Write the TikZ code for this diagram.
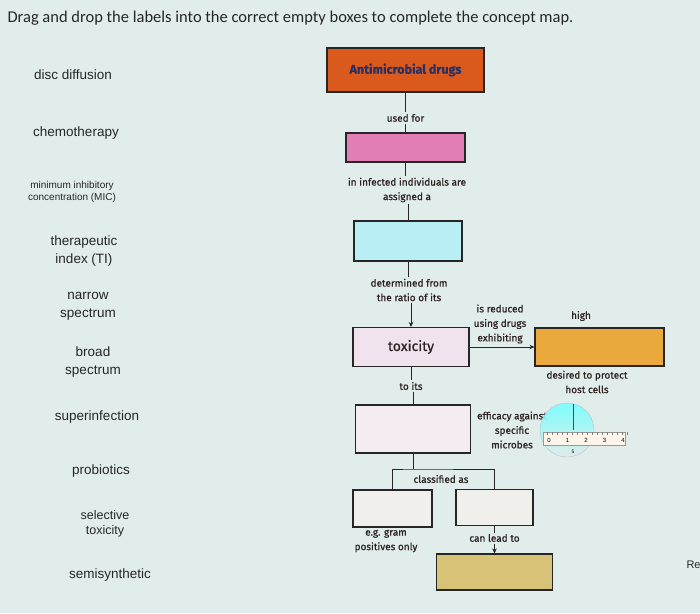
\documentclass[tikz,border=0pt]{standalone}
\usepackage{fontspec}
\setmainfont{Liberation Sans}
\newfontfamily\mapfont[FakeBold=0.8]{Fira Sans}
\newfontfamily\titlefont{Carlito}
\usetikzlibrary{arrows.meta}
\definecolor{paper}{HTML}{E1EDEB}
\definecolor{drugred}{HTML}{DA5A1E}
\definecolor{drugink}{HTML}{2B3060}
\definecolor{usepink}{HTML}{E27EB5}
\definecolor{indexcyan}{HTML}{B9EEF5}
\definecolor{toxlav}{HTML}{F1E3EE}
\definecolor{highorange}{HTML}{E9A93D}
\definecolor{targetlav}{HTML}{F4ECF0}
\definecolor{classgray}{HTML}{F1EFEB}
\definecolor{leadtan}{HTML}{D8C277}
\definecolor{mapink}{HTML}{2E2222}

\begin{document}
\begin{tikzpicture}[x=1pt,y=-1pt,
  mapbox/.style={draw=black!85,line width=1.1pt,inner sep=0pt},
  link/.style={mapink,font=\mapfont\fontsize{10}{14.5}\selectfont,align=center,inner sep=1.5pt},
  choice/.style={black!85,font=\fontsize{13.5}{18}\selectfont,align=center,inner sep=0pt},
  conn/.style={black!85,line width=1pt},
  pointer/.style={conn,-{Stealth[length=5pt,width=4.5pt]}},
]
\fill[paper] (0,0) rectangle (700,613);
\useasboundingbox (0,0) rectangle (700,613);

\node[anchor=west,font=\titlefont\fontsize{16.5}{18}\selectfont,black!85] (title) at (4,18)
  {Drag and drop the labels into the correct empty boxes to complete the concept map.};

\node[choice] (disc) at (73,75) {disc diffusion};
\node[choice] (chemo) at (76,133) {chemotherapy};
\node[choice,font=\fontsize{10}{12}\selectfont] (mic) at (72,192) {minimum inhibitory\\concentration (MIC)};
\node[choice] (ti) at (84,251) {therapeutic\\index (TI)};
\node[choice] (narrow) at (88,306) {narrow\\spectrum};
\node[choice] (broad) at (93,362) {broad\\spectrum};
\node[choice] (super) at (97,417) {superinfection};
\node[choice] (probio) at (101,471) {probiotics};
\node[choice,font=\fontsize{12.5}{15}\selectfont] (selective) at (105,524) {selective\\toxicity};
\node[choice] (semi) at (110,575) {semisynthetic};

\node[mapbox,fill=drugred,minimum width=157pt,minimum height=44pt,
  font=\mapfont\bfseries\fontsize{12.5}{14}\selectfont,text=drugink] (drugs) at (405.5,70) {Antimicrobial drugs};
\node[link] (usedfor) at (405.5,118) {used for};
\node[mapbox,fill=usepink,minimum width=119pt,minimum height=29pt] (chemobox) at (405.5,147.5) {};
\node[link] (assigned) at (407,190) {in infected individuals are\\assigned a};
\node[mapbox,fill=indexcyan,minimum width=108pt,minimum height=40pt] (tibox) at (408,241) {};
\node[link] (ratio) at (409,290) {determined from\\the ratio of its};
\node[mapbox,fill=toxlav,minimum width=116pt,minimum height=39pt,
  font=\mapfont\fontsize{14}{16}\selectfont,text=mapink] (toxicity) at (411,347) {toxicity};
\node[mapbox,fill=highorange,minimum width=129pt,minimum height=38pt] (highbox) at (599.5,347) {};
\node[link] (reduced) at (500,324) {is reduced\\using drugs\\exhibiting};
\node[link] (high) at (581,316) {high};
\node[link] (protect) at (587,382) {desired to protect\\host cells};
\node[link] (toits) at (411,386) {to its};
\node[mapbox,fill=targetlav,minimum width=115pt,minimum height=48pt] (target) at (413,429) {};
\node[link] (efficacy) at (512,430) {efficacy against\\specific\\microbes};
\coordinate (split) at (413,469);
\node[link] (classified) at (441,479) {classified as};
\node[mapbox,fill=classgray,minimum width=79pt,minimum height=37pt] (narrowbox) at (392.5,508.5) {};
\node[mapbox,fill=classgray,minimum width=77pt,minimum height=36pt] (broadbox) at (494.5,507.5) {};
\node[link] (gram) at (386,541) {e.g. gram\\positives only};
\node[link] (leadto) at (494.5,538) {can lead to};
\node[mapbox,fill=leadtan,minimum width=116pt,minimum height=36pt] (superbox) at (494.5,572) {};

\draw[conn] (drugs) -- (usedfor);
\draw[conn] (usedfor) -- (chemobox);
\draw[conn] (chemobox.south) -- (chemobox.south |- assigned.north);
\draw[conn] (assigned.south -| tibox.north) -- (tibox.north);
\draw[conn] (tibox.south) -- (tibox.south |- ratio.north);
\draw[pointer] (ratio.south -| toxicity.north) -- (toxicity.north);
\draw[pointer] (toxicity) -- (highbox);
\draw[conn] (toxicity) -- (toits);
\draw[conn] (toits.south -| target.north) -- (target.north);
\draw[conn] (target) -- (split);
\draw[conn] (narrowbox.north) |- (split) -| (broadbox.north);
\draw[conn] (broadbox) -- (leadto);
\draw[pointer,line width=0.6pt] (leadto) -- (superbox);

\begin{scope}[shift={(567,430)}]
  \shade[top color=cyan!55!white,bottom color=paper,opacity=0.9] (0,0) circle (27);
  \draw[black!25] (0,0) circle (27);
  \draw[black!70,line width=0.6pt] (6,-26) -- (6,0);
  \draw[black!40,fill=orange!8] (-24,2) rectangle (58,15);
  \foreach \k in {0,...,16} {\draw[black!50] (-20+\k*5,2) -- (-20+\k*5,5);}
  \foreach \k/\v in {0/0,1/1,2/2,3/3,4/4} {\node[font=\fontsize{6}{6}\selectfont,inner sep=0pt] (tick\v) at (-18+\k*18.5,10) {\v};}
  \node[font=\fontsize{5}{5}\selectfont,inner sep=0pt] (fivemark) at (6,22) {5};
\end{scope}

\node[anchor=west,font=\fontsize{11}{13}\selectfont,black!85] (readmore) at (683,565) {Re};
\end{tikzpicture}
\end{document}
